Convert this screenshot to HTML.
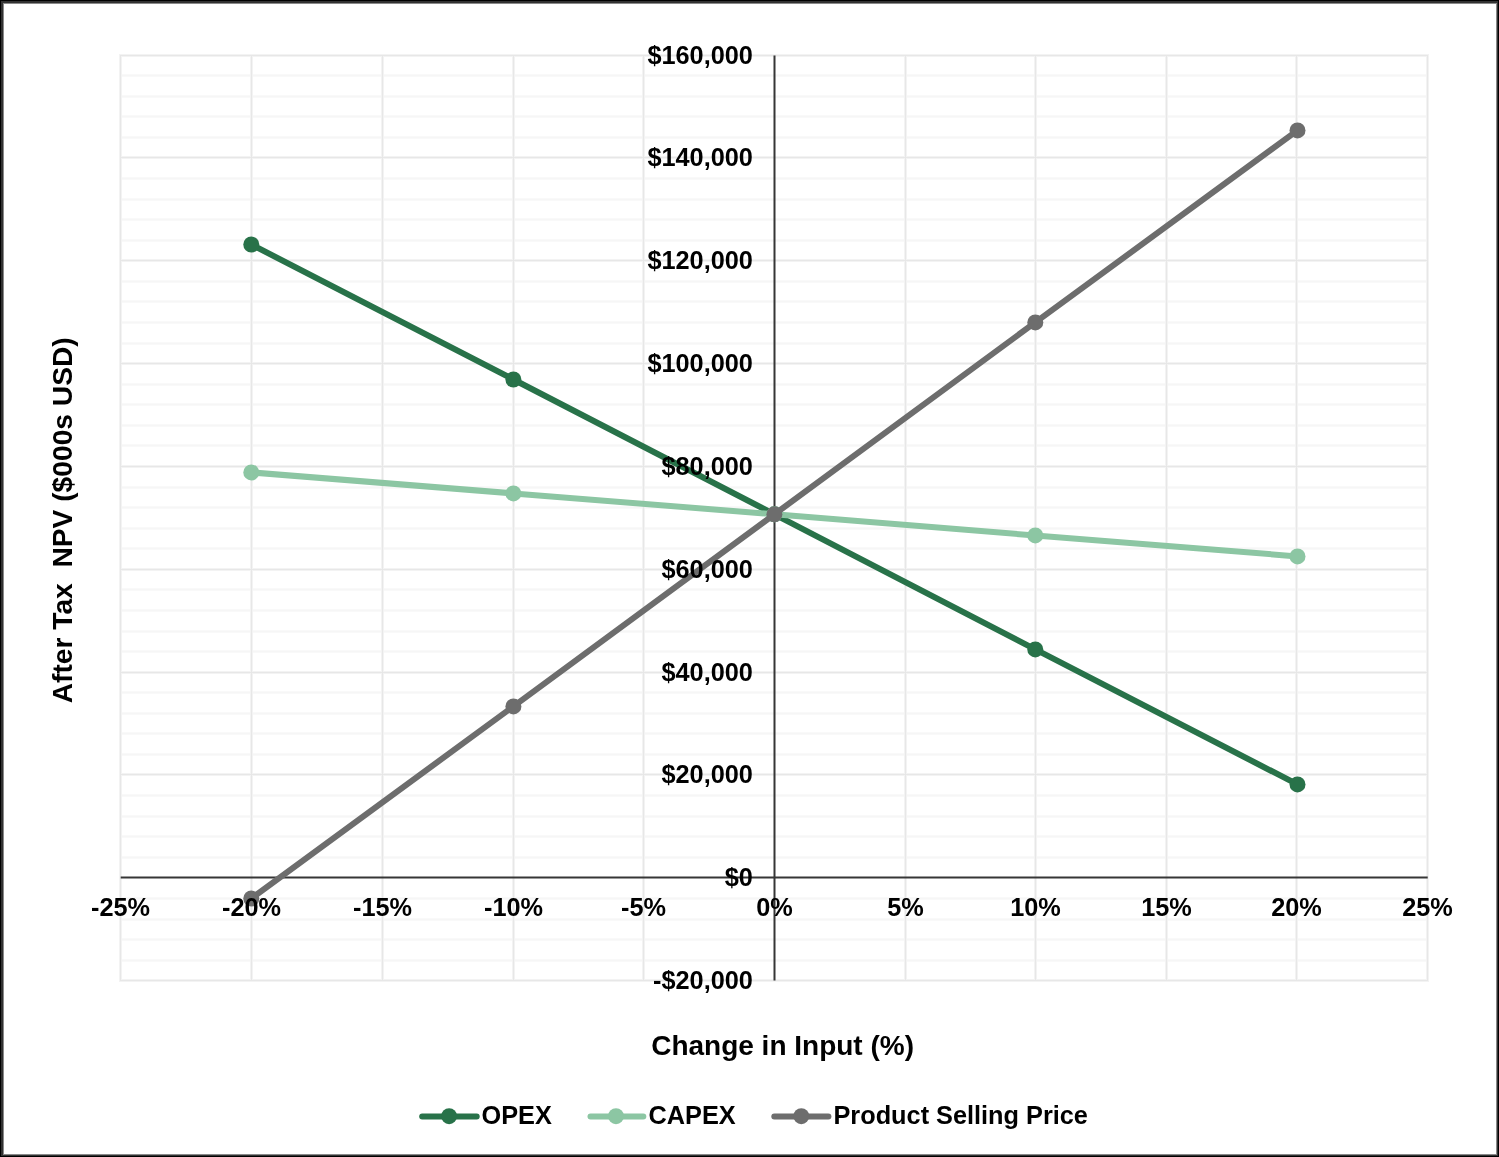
<!DOCTYPE html>
<html><head><meta charset="utf-8"><style>
html,body{margin:0;padding:0;background:#000;width:1499px;height:1157px;overflow:hidden}
.b{position:absolute}
svg{position:absolute;left:0;top:0;will-change:transform}
.t{font-family:"Liberation Sans",sans-serif;font-weight:bold;font-size:25.3px;fill:#000}
.ti{font-family:"Liberation Sans",sans-serif;font-weight:bold;font-size:28.2px;fill:#000;white-space:pre}
.lg{font-family:"Liberation Sans",sans-serif;font-weight:bold;font-size:25.3px;fill:#000}
</style></head><body>
<div class="b" style="left:1px;top:1px;width:1497px;height:1155px;background:#323232"></div>
<div class="b" style="left:3px;top:3px;width:1494px;height:1152px;background:#8a8a8a"></div>
<div class="b" style="left:4px;top:4px;width:1492px;height:1150px;background:#fff"></div>
<svg width="1499" height="1157" viewBox="0 0 1499 1157">
<line x1="120" x2="1428" y1="75.5" y2="75.5" stroke="#f9f9f9" stroke-width="3"/>
<line x1="120" x2="1428" y1="96.5" y2="96.5" stroke="#f9f9f9" stroke-width="3"/>
<line x1="120" x2="1428" y1="116.5" y2="116.5" stroke="#f9f9f9" stroke-width="3"/>
<line x1="120" x2="1428" y1="137.5" y2="137.5" stroke="#f9f9f9" stroke-width="3"/>
<line x1="120" x2="1428" y1="178.5" y2="178.5" stroke="#f9f9f9" stroke-width="3"/>
<line x1="120" x2="1428" y1="199.5" y2="199.5" stroke="#f9f9f9" stroke-width="3"/>
<line x1="120" x2="1428" y1="219.5" y2="219.5" stroke="#f9f9f9" stroke-width="3"/>
<line x1="120" x2="1428" y1="240.5" y2="240.5" stroke="#f9f9f9" stroke-width="3"/>
<line x1="120" x2="1428" y1="281.5" y2="281.5" stroke="#f9f9f9" stroke-width="3"/>
<line x1="120" x2="1428" y1="301.5" y2="301.5" stroke="#f9f9f9" stroke-width="3"/>
<line x1="120" x2="1428" y1="322.5" y2="322.5" stroke="#f9f9f9" stroke-width="3"/>
<line x1="120" x2="1428" y1="343.5" y2="343.5" stroke="#f9f9f9" stroke-width="3"/>
<line x1="120" x2="1428" y1="384.5" y2="384.5" stroke="#f9f9f9" stroke-width="3"/>
<line x1="120" x2="1428" y1="404.5" y2="404.5" stroke="#f9f9f9" stroke-width="3"/>
<line x1="120" x2="1428" y1="425.5" y2="425.5" stroke="#f9f9f9" stroke-width="3"/>
<line x1="120" x2="1428" y1="445.5" y2="445.5" stroke="#f9f9f9" stroke-width="3"/>
<line x1="120" x2="1428" y1="487.5" y2="487.5" stroke="#f9f9f9" stroke-width="3"/>
<line x1="120" x2="1428" y1="507.5" y2="507.5" stroke="#f9f9f9" stroke-width="3"/>
<line x1="120" x2="1428" y1="528.5" y2="528.5" stroke="#f9f9f9" stroke-width="3"/>
<line x1="120" x2="1428" y1="548.5" y2="548.5" stroke="#f9f9f9" stroke-width="3"/>
<line x1="120" x2="1428" y1="589.5" y2="589.5" stroke="#f9f9f9" stroke-width="3"/>
<line x1="120" x2="1428" y1="610.5" y2="610.5" stroke="#f9f9f9" stroke-width="3"/>
<line x1="120" x2="1428" y1="631.5" y2="631.5" stroke="#f9f9f9" stroke-width="3"/>
<line x1="120" x2="1428" y1="651.5" y2="651.5" stroke="#f9f9f9" stroke-width="3"/>
<line x1="120" x2="1428" y1="692.5" y2="692.5" stroke="#f9f9f9" stroke-width="3"/>
<line x1="120" x2="1428" y1="713.5" y2="713.5" stroke="#f9f9f9" stroke-width="3"/>
<line x1="120" x2="1428" y1="733.5" y2="733.5" stroke="#f9f9f9" stroke-width="3"/>
<line x1="120" x2="1428" y1="754.5" y2="754.5" stroke="#f9f9f9" stroke-width="3"/>
<line x1="120" x2="1428" y1="795.5" y2="795.5" stroke="#f9f9f9" stroke-width="3"/>
<line x1="120" x2="1428" y1="816.5" y2="816.5" stroke="#f9f9f9" stroke-width="3"/>
<line x1="120" x2="1428" y1="836.5" y2="836.5" stroke="#f9f9f9" stroke-width="3"/>
<line x1="120" x2="1428" y1="857.5" y2="857.5" stroke="#f9f9f9" stroke-width="3"/>
<line x1="120" x2="1428" y1="898.5" y2="898.5" stroke="#f9f9f9" stroke-width="3"/>
<line x1="120" x2="1428" y1="919.5" y2="919.5" stroke="#f9f9f9" stroke-width="3"/>
<line x1="120" x2="1428" y1="939.5" y2="939.5" stroke="#f9f9f9" stroke-width="3"/>
<line x1="120" x2="1428" y1="960.5" y2="960.5" stroke="#f9f9f9" stroke-width="3"/>
<line x1="120" x2="1428" y1="75.5" y2="75.5" stroke="#f6f6f6" stroke-width="1"/>
<line x1="120" x2="1428" y1="96.5" y2="96.5" stroke="#f6f6f6" stroke-width="1"/>
<line x1="120" x2="1428" y1="116.5" y2="116.5" stroke="#f6f6f6" stroke-width="1"/>
<line x1="120" x2="1428" y1="137.5" y2="137.5" stroke="#f6f6f6" stroke-width="1"/>
<line x1="120" x2="1428" y1="178.5" y2="178.5" stroke="#f6f6f6" stroke-width="1"/>
<line x1="120" x2="1428" y1="199.5" y2="199.5" stroke="#f6f6f6" stroke-width="1"/>
<line x1="120" x2="1428" y1="219.5" y2="219.5" stroke="#f6f6f6" stroke-width="1"/>
<line x1="120" x2="1428" y1="240.5" y2="240.5" stroke="#f6f6f6" stroke-width="1"/>
<line x1="120" x2="1428" y1="281.5" y2="281.5" stroke="#f6f6f6" stroke-width="1"/>
<line x1="120" x2="1428" y1="301.5" y2="301.5" stroke="#f6f6f6" stroke-width="1"/>
<line x1="120" x2="1428" y1="322.5" y2="322.5" stroke="#f6f6f6" stroke-width="1"/>
<line x1="120" x2="1428" y1="343.5" y2="343.5" stroke="#f6f6f6" stroke-width="1"/>
<line x1="120" x2="1428" y1="384.5" y2="384.5" stroke="#f6f6f6" stroke-width="1"/>
<line x1="120" x2="1428" y1="404.5" y2="404.5" stroke="#f6f6f6" stroke-width="1"/>
<line x1="120" x2="1428" y1="425.5" y2="425.5" stroke="#f6f6f6" stroke-width="1"/>
<line x1="120" x2="1428" y1="445.5" y2="445.5" stroke="#f6f6f6" stroke-width="1"/>
<line x1="120" x2="1428" y1="487.5" y2="487.5" stroke="#f6f6f6" stroke-width="1"/>
<line x1="120" x2="1428" y1="507.5" y2="507.5" stroke="#f6f6f6" stroke-width="1"/>
<line x1="120" x2="1428" y1="528.5" y2="528.5" stroke="#f6f6f6" stroke-width="1"/>
<line x1="120" x2="1428" y1="548.5" y2="548.5" stroke="#f6f6f6" stroke-width="1"/>
<line x1="120" x2="1428" y1="589.5" y2="589.5" stroke="#f6f6f6" stroke-width="1"/>
<line x1="120" x2="1428" y1="610.5" y2="610.5" stroke="#f6f6f6" stroke-width="1"/>
<line x1="120" x2="1428" y1="631.5" y2="631.5" stroke="#f6f6f6" stroke-width="1"/>
<line x1="120" x2="1428" y1="651.5" y2="651.5" stroke="#f6f6f6" stroke-width="1"/>
<line x1="120" x2="1428" y1="692.5" y2="692.5" stroke="#f6f6f6" stroke-width="1"/>
<line x1="120" x2="1428" y1="713.5" y2="713.5" stroke="#f6f6f6" stroke-width="1"/>
<line x1="120" x2="1428" y1="733.5" y2="733.5" stroke="#f6f6f6" stroke-width="1"/>
<line x1="120" x2="1428" y1="754.5" y2="754.5" stroke="#f6f6f6" stroke-width="1"/>
<line x1="120" x2="1428" y1="795.5" y2="795.5" stroke="#f6f6f6" stroke-width="1"/>
<line x1="120" x2="1428" y1="816.5" y2="816.5" stroke="#f6f6f6" stroke-width="1"/>
<line x1="120" x2="1428" y1="836.5" y2="836.5" stroke="#f6f6f6" stroke-width="1"/>
<line x1="120" x2="1428" y1="857.5" y2="857.5" stroke="#f6f6f6" stroke-width="1"/>
<line x1="120" x2="1428" y1="898.5" y2="898.5" stroke="#f6f6f6" stroke-width="1"/>
<line x1="120" x2="1428" y1="919.5" y2="919.5" stroke="#f6f6f6" stroke-width="1"/>
<line x1="120" x2="1428" y1="939.5" y2="939.5" stroke="#f6f6f6" stroke-width="1"/>
<line x1="120" x2="1428" y1="960.5" y2="960.5" stroke="#f6f6f6" stroke-width="1"/>
<line x1="119" x2="1429" y1="55.5" y2="55.5" stroke="#f3f3f3" stroke-width="3"/>
<line x1="119" x2="1429" y1="157.5" y2="157.5" stroke="#f3f3f3" stroke-width="3"/>
<line x1="119" x2="1429" y1="260.5" y2="260.5" stroke="#f3f3f3" stroke-width="3"/>
<line x1="119" x2="1429" y1="363.5" y2="363.5" stroke="#f3f3f3" stroke-width="3"/>
<line x1="119" x2="1429" y1="466.5" y2="466.5" stroke="#f3f3f3" stroke-width="3"/>
<line x1="119" x2="1429" y1="569.5" y2="569.5" stroke="#f3f3f3" stroke-width="3"/>
<line x1="119" x2="1429" y1="672.5" y2="672.5" stroke="#f3f3f3" stroke-width="3"/>
<line x1="119" x2="1429" y1="774.5" y2="774.5" stroke="#f3f3f3" stroke-width="3"/>
<line x1="119" x2="1429" y1="980.5" y2="980.5" stroke="#f3f3f3" stroke-width="3"/>
<line x1="120.5" x2="120.5" y1="54" y2="982" stroke="#f3f3f3" stroke-width="3"/>
<line x1="251.5" x2="251.5" y1="54" y2="982" stroke="#f3f3f3" stroke-width="3"/>
<line x1="382.5" x2="382.5" y1="54" y2="982" stroke="#f3f3f3" stroke-width="3"/>
<line x1="513.5" x2="513.5" y1="54" y2="982" stroke="#f3f3f3" stroke-width="3"/>
<line x1="643.5" x2="643.5" y1="54" y2="982" stroke="#f3f3f3" stroke-width="3"/>
<line x1="905.5" x2="905.5" y1="54" y2="982" stroke="#f3f3f3" stroke-width="3"/>
<line x1="1035.5" x2="1035.5" y1="54" y2="982" stroke="#f3f3f3" stroke-width="3"/>
<line x1="1166.5" x2="1166.5" y1="54" y2="982" stroke="#f3f3f3" stroke-width="3"/>
<line x1="1296.5" x2="1296.5" y1="54" y2="982" stroke="#f3f3f3" stroke-width="3"/>
<line x1="1427.5" x2="1427.5" y1="54" y2="982" stroke="#f3f3f3" stroke-width="3"/>
<line x1="120" x2="1428" y1="55.5" y2="55.5" stroke="#e7e7e7" stroke-width="1"/>
<line x1="120" x2="1428" y1="157.5" y2="157.5" stroke="#e7e7e7" stroke-width="1"/>
<line x1="120" x2="1428" y1="260.5" y2="260.5" stroke="#e7e7e7" stroke-width="1"/>
<line x1="120" x2="1428" y1="363.5" y2="363.5" stroke="#e7e7e7" stroke-width="1"/>
<line x1="120" x2="1428" y1="466.5" y2="466.5" stroke="#e7e7e7" stroke-width="1"/>
<line x1="120" x2="1428" y1="569.5" y2="569.5" stroke="#e7e7e7" stroke-width="1"/>
<line x1="120" x2="1428" y1="672.5" y2="672.5" stroke="#e7e7e7" stroke-width="1"/>
<line x1="120" x2="1428" y1="774.5" y2="774.5" stroke="#e7e7e7" stroke-width="1"/>
<line x1="120" x2="1428" y1="980.5" y2="980.5" stroke="#e7e7e7" stroke-width="1"/>
<line x1="120.5" x2="120.5" y1="55" y2="981" stroke="#e7e7e7" stroke-width="1"/>
<line x1="251.5" x2="251.5" y1="55" y2="981" stroke="#e7e7e7" stroke-width="1"/>
<line x1="382.5" x2="382.5" y1="55" y2="981" stroke="#e7e7e7" stroke-width="1"/>
<line x1="513.5" x2="513.5" y1="55" y2="981" stroke="#e7e7e7" stroke-width="1"/>
<line x1="643.5" x2="643.5" y1="55" y2="981" stroke="#e7e7e7" stroke-width="1"/>
<line x1="905.5" x2="905.5" y1="55" y2="981" stroke="#e7e7e7" stroke-width="1"/>
<line x1="1035.5" x2="1035.5" y1="55" y2="981" stroke="#e7e7e7" stroke-width="1"/>
<line x1="1166.5" x2="1166.5" y1="55" y2="981" stroke="#e7e7e7" stroke-width="1"/>
<line x1="1296.5" x2="1296.5" y1="55" y2="981" stroke="#e7e7e7" stroke-width="1"/>
<line x1="1427.5" x2="1427.5" y1="55" y2="981" stroke="#e7e7e7" stroke-width="1"/>
<line x1="120.7" x2="1427.7" y1="877.5" y2="877.5" stroke="#363636" stroke-width="2"/>
<line x1="774.5" x2="774.5" y1="55.6" y2="980.6" stroke="#363636" stroke-width="2"/>
<polyline points="251.3,244.5 513.4,379.5 774.4,514.3 1035.3,649.45 1297.5,784.4" fill="none" stroke="#287249" stroke-width="6" stroke-linejoin="round" stroke-linecap="round"/>
<circle cx="251.3" cy="244.5" r="8" fill="#287249"/>
<circle cx="513.4" cy="379.5" r="8" fill="#287249"/>
<circle cx="774.4" cy="514.3" r="8" fill="#287249"/>
<circle cx="1035.3" cy="649.45" r="8" fill="#287249"/>
<circle cx="1297.5" cy="784.4" r="8" fill="#287249"/>
<polyline points="251.3,472.4 513.4,493.4 774.4,514.3 1035.3,535.45 1297.5,556.4" fill="none" stroke="#8cc6a3" stroke-width="6" stroke-linejoin="round" stroke-linecap="round"/>
<circle cx="251.3" cy="472.4" r="8" fill="#8cc6a3"/>
<circle cx="513.4" cy="493.4" r="8" fill="#8cc6a3"/>
<circle cx="774.4" cy="514.3" r="8" fill="#8cc6a3"/>
<circle cx="1035.3" cy="535.45" r="8" fill="#8cc6a3"/>
<circle cx="1297.5" cy="556.4" r="8" fill="#8cc6a3"/>
<polyline points="251.3,898.5 513.4,706.4 774.4,514.3 1035.3,322.4 1297.5,130.4" fill="none" stroke="#6d6d6d" stroke-width="6" stroke-linejoin="round" stroke-linecap="round"/>
<circle cx="251.3" cy="898.5" r="8" fill="#6d6d6d"/>
<circle cx="513.4" cy="706.4" r="8" fill="#6d6d6d"/>
<circle cx="774.4" cy="514.3" r="8" fill="#6d6d6d"/>
<circle cx="1035.3" cy="322.4" r="8" fill="#6d6d6d"/>
<circle cx="1297.5" cy="130.4" r="8" fill="#6d6d6d"/>
<text x="752.9" y="63.50" text-anchor="end" class="t">$160,000</text>
<text x="752.9" y="165.50" text-anchor="end" class="t">$140,000</text>
<text x="752.9" y="268.50" text-anchor="end" class="t">$120,000</text>
<text x="752.9" y="371.50" text-anchor="end" class="t">$100,000</text>
<text x="752.9" y="474.50" text-anchor="end" class="t">$80,000</text>
<text x="752.9" y="577.50" text-anchor="end" class="t">$60,000</text>
<text x="752.9" y="680.50" text-anchor="end" class="t">$40,000</text>
<text x="752.9" y="782.50" text-anchor="end" class="t">$20,000</text>
<text x="752.9" y="885.50" text-anchor="end" class="t">$0</text>
<text x="752.9" y="988.50" text-anchor="end" class="t">-$20,000</text>
<text x="120.5" y="916.3" text-anchor="middle" class="t">-25%</text>
<text x="251.5" y="916.3" text-anchor="middle" class="t">-20%</text>
<text x="382.5" y="916.3" text-anchor="middle" class="t">-15%</text>
<text x="513.5" y="916.3" text-anchor="middle" class="t">-10%</text>
<text x="643.5" y="916.3" text-anchor="middle" class="t">-5%</text>
<text x="774.5" y="916.3" text-anchor="middle" class="t">0%</text>
<text x="905.5" y="916.3" text-anchor="middle" class="t">5%</text>
<text x="1035.5" y="916.3" text-anchor="middle" class="t">10%</text>
<text x="1166.5" y="916.3" text-anchor="middle" class="t">15%</text>
<text x="1296.5" y="916.3" text-anchor="middle" class="t">20%</text>
<text x="1427.5" y="916.3" text-anchor="middle" class="t">25%</text>
<text x="782.6" y="1055" text-anchor="middle" class="ti" style="font-size:28px">Change in Input (%)</text>
<text transform="translate(72.3,520.3) rotate(-90)" x="0" y="0" text-anchor="middle" class="ti">After Tax  NPV ($000s USD)</text>
<line x1="422.2" x2="476.7" y1="1116.4" y2="1116.4" stroke="#287249" stroke-width="6" stroke-linecap="round"/>
<circle cx="449.1" cy="1116.2" r="8" fill="#287249"/>
<text x="481.5" y="1124" class="lg">OPEX</text>
<line x1="590.5" x2="643.3" y1="1116.4" y2="1116.4" stroke="#8cc6a3" stroke-width="6" stroke-linecap="round"/>
<circle cx="616" cy="1116.2" r="8" fill="#8cc6a3"/>
<text x="648.5" y="1124" class="lg">CAPEX</text>
<line x1="774.3" x2="828.4" y1="1116.4" y2="1116.4" stroke="#6d6d6d" stroke-width="6" stroke-linecap="round"/>
<circle cx="801.3" cy="1116.2" r="8" fill="#6d6d6d"/>
<text x="833.5" y="1124" class="lg">Product Selling Price</text>
</svg>
</body></html>
